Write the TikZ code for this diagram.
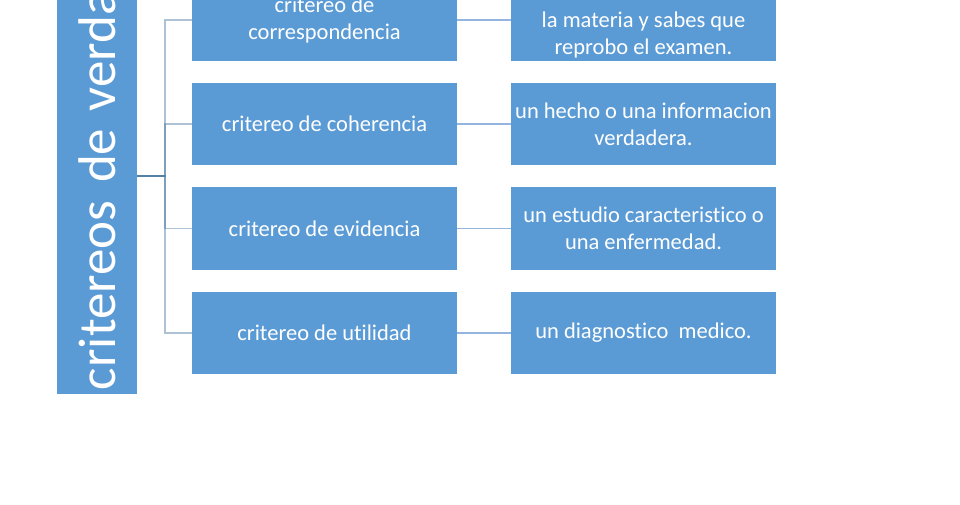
\documentclass[tikz,border=0pt]{standalone}
\usepackage{fontspec}
\setmainfont{Carlito}[Ligatures={NoCommon}]
\newlength{\du}
\setlength{\du}{1pt}
\definecolor{boxfill}{rgb}{0.356863, 0.607843, 0.835294}
\tikzset{
  rootbox/.style={fill=boxfill, text=white, minimum width=436\du, minimum height=80\du,
    inner xsep=4\du, inner ysep=0pt, text width=428\du, align=left,
    font=\fontsize{53}{60}\selectfont},
  critbox/.style={fill=boxfill, text=white, minimum width=265\du, minimum height=82.5\du,
    inner sep=0pt, align=center, font=\fontsize{22.5}{27}\selectfont},
  treeline/.style={draw=dialinecolor, draw opacity=0.43},
  leafline/.style={draw=dialinecolor}
}
\begin{document}
\begin{tikzpicture}
\pgftransformxscale{1.000000}
\pgftransformyscale{-1.000000}
\useasboundingbox (0\du,0\du) rectangle (960\du,504\du);
\clip (0\du,0\du) rectangle (960\du,504\du);
% boxes
\node[rootbox, rotate=90] (root) at (97\du,176\du) {critereos de verda};
\node[critbox] (c1) at (324.5\du,19.8\du) {critereo de\\correspondencia};
\node[critbox] (c2) at (324.5\du,124.2\du) {critereo de coherencia};
\node[critbox] (c3) at (324.5\du,228.5\du) {critereo de evidencia};
\node[critbox] (c4) at (324.5\du,332.8\du) {critereo de utilidad};
\node[critbox] (r1) at (643.5\du,19.8\du) {\strut\\la materia y sabes que\\reprobo el examen.};
\node[critbox] (r2) at (643.5\du,124.2\du) {un hecho o una informacion\\verdadera.};
\node[critbox] (r3) at (643.5\du,228.5\du) {un estudio caracteristico o\\una enfermedad.};
\node[critbox] (r4) at (643.5\du,332.8\du) {un diagnostico\ \ medico.};
\coordinate (split) at (165\du,176\du);
% tree
\pgfsetlinewidth{1.500000\du}
\pgfsetbuttcap
{
\definecolor{dialinecolor}{rgb}{0.254902, 0.443137, 0.611765}
\pgfsetstrokecolor{dialinecolor}
\draw[treeline] (root.south)--(split)|-(c1.west);
\draw[treeline] (root.south)--(split)|-(c2.west);
\draw[treeline] (root.south)--(split)|-(c3.west);
\draw[treeline] (root.south)--(split)|-(c4.west);
}
\pgfsetlinewidth{1.600000\du}
\pgfsetbuttcap
{
\definecolor{dialinecolor}{rgb}{0.580392, 0.713725, 0.870588}
\pgfsetstrokecolor{dialinecolor}
\draw[leafline] (c1.east)--(r1.west);
\draw[leafline] (c2.east)--(r2.west);
\draw[leafline] (c3.east)--(r3.west);
\draw[leafline] (c4.east)--(r4.west);
}
\end{tikzpicture}
\end{document}
